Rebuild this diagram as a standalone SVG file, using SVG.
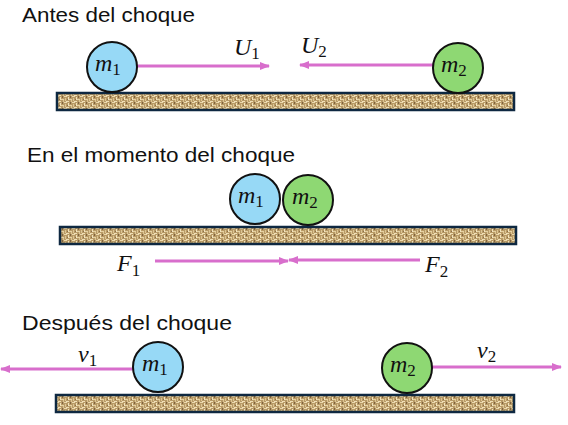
<svg xmlns="http://www.w3.org/2000/svg" width="568" height="425" viewBox="0 0 568 425">
<defs>
<pattern id="burlap" width="8" height="6" patternUnits="userSpaceOnUse">
<rect width="8" height="6" fill="#B89A66"/>
<rect x="0" y="0" width="3" height="1" fill="#EBD9AE"/>
<rect x="4" y="1" width="1" height="3" fill="#F2E3BD"/>
<rect x="5" y="3" width="3" height="1" fill="#E6D2A3"/>
<rect x="1" y="2" width="1" height="3" fill="#DCC594"/>
<rect x="2" y="5" width="3" height="1" fill="#F0DFB6"/>
<rect x="6" y="0" width="1" height="2" fill="#7F6340"/>
<rect x="3" y="3" width="1" height="1" fill="#8A6E46"/>
<rect x="7" y="4" width="1" height="2" fill="#DCC594"/>
</pattern>
<marker id="ah" markerWidth="10" markerHeight="8" refX="9" refY="4" orient="auto" markerUnits="userSpaceOnUse">
<path d="M0,0 L10,4 L0,8 Z" fill="#D86ECC"/>
</marker>
<style>
.title{font-family:"Liberation Sans",Arial,sans-serif;font-size:21px;fill:#111}
.math{font-family:"Liberation Serif","DejaVu Serif",serif;font-style:italic;font-size:24px;fill:#111}
.sub{font-style:normal;font-size:17px}
.table{fill:url(#burlap);stroke:#0E2841;stroke-width:2.5}
.b1{fill:#97D9F6;stroke:#111;stroke-width:2}
.b2{fill:#8ED873;stroke:#111;stroke-width:2}
.arr{stroke:#D86ECC;stroke-width:3;fill:none;marker-end:url(#ah)}
</style>
</defs>
<rect width="568" height="425" fill="#fff"/>

<text class="title" x="22" y="22" textLength="173" lengthAdjust="spacingAndGlyphs">Antes del choque</text>
<text class="title" x="27" y="162" textLength="268" lengthAdjust="spacingAndGlyphs">En el momento del choque</text>
<text class="title" x="22" y="330" textLength="210" lengthAdjust="spacingAndGlyphs">Después del choque</text>

<g id="table1"><rect class="table" x="57" y="93" width="457" height="17"/></g>
<g id="table2"><rect class="table" x="60" y="227" width="456" height="17"/></g>
<g id="table3"><rect class="table" x="56" y="395" width="458" height="17"/></g>

<g id="connectors">
<line class="arr" x1="137" y1="66" x2="269" y2="66"/>
<line class="arr" x1="433" y1="65" x2="300" y2="65"/>
<line class="arr" x1="155" y1="261" x2="288" y2="261"/>
<line class="arr" x1="420" y1="260" x2="289" y2="260"/>
<line class="arr" x1="133" y1="369" x2="1" y2="369"/>
<line class="arr" x1="432" y1="367" x2="561" y2="367"/>
</g>

<g id="U1"><text class="math" x="234" y="55">U<tspan class="sub" dy="4">1</tspan></text></g>
<g id="U2"><text class="math" x="301" y="53">U<tspan class="sub" dy="4">2</tspan></text></g>
<g id="F1"><text class="math" x="117" y="271">F<tspan class="sub" dy="5">1</tspan></text></g>
<g id="F2"><text class="math" x="425" y="272">F<tspan class="sub" dy="5">2</tspan></text></g>
<g id="v1"><text class="math" x="78" y="362">v<tspan class="sub" dy="4">1</tspan></text></g>
<g id="v2"><text class="math" x="477" y="358">v<tspan class="sub" dy="4">2</tspan></text></g>

<g id="m1a"><circle class="b1" cx="112" cy="67" r="25"/><text class="math" x="95" y="71">m<tspan class="sub" dy="4">1</tspan></text></g>
<g id="m2a"><circle class="b2" cx="458" cy="68" r="25"/><text class="math" x="441" y="72">m<tspan class="sub" dy="4">2</tspan></text></g>
<g id="m1b"><circle class="b1" cx="255" cy="199" r="25"/><text class="math" x="238" y="203">m<tspan class="sub" dy="4">1</tspan></text></g>
<g id="m2b"><circle class="b2" cx="308" cy="200" r="25"/><text class="math" x="292" y="204">m<tspan class="sub" dy="4">2</tspan></text></g>
<g id="m1c"><circle class="b1" cx="158" cy="367" r="25"/><text class="math" x="142" y="371">m<tspan class="sub" dy="4">1</tspan></text></g>
<g id="m2c"><circle class="b2" cx="407" cy="368" r="25"/><text class="math" x="390" y="372">m<tspan class="sub" dy="4">2</tspan></text></g>
</svg>
